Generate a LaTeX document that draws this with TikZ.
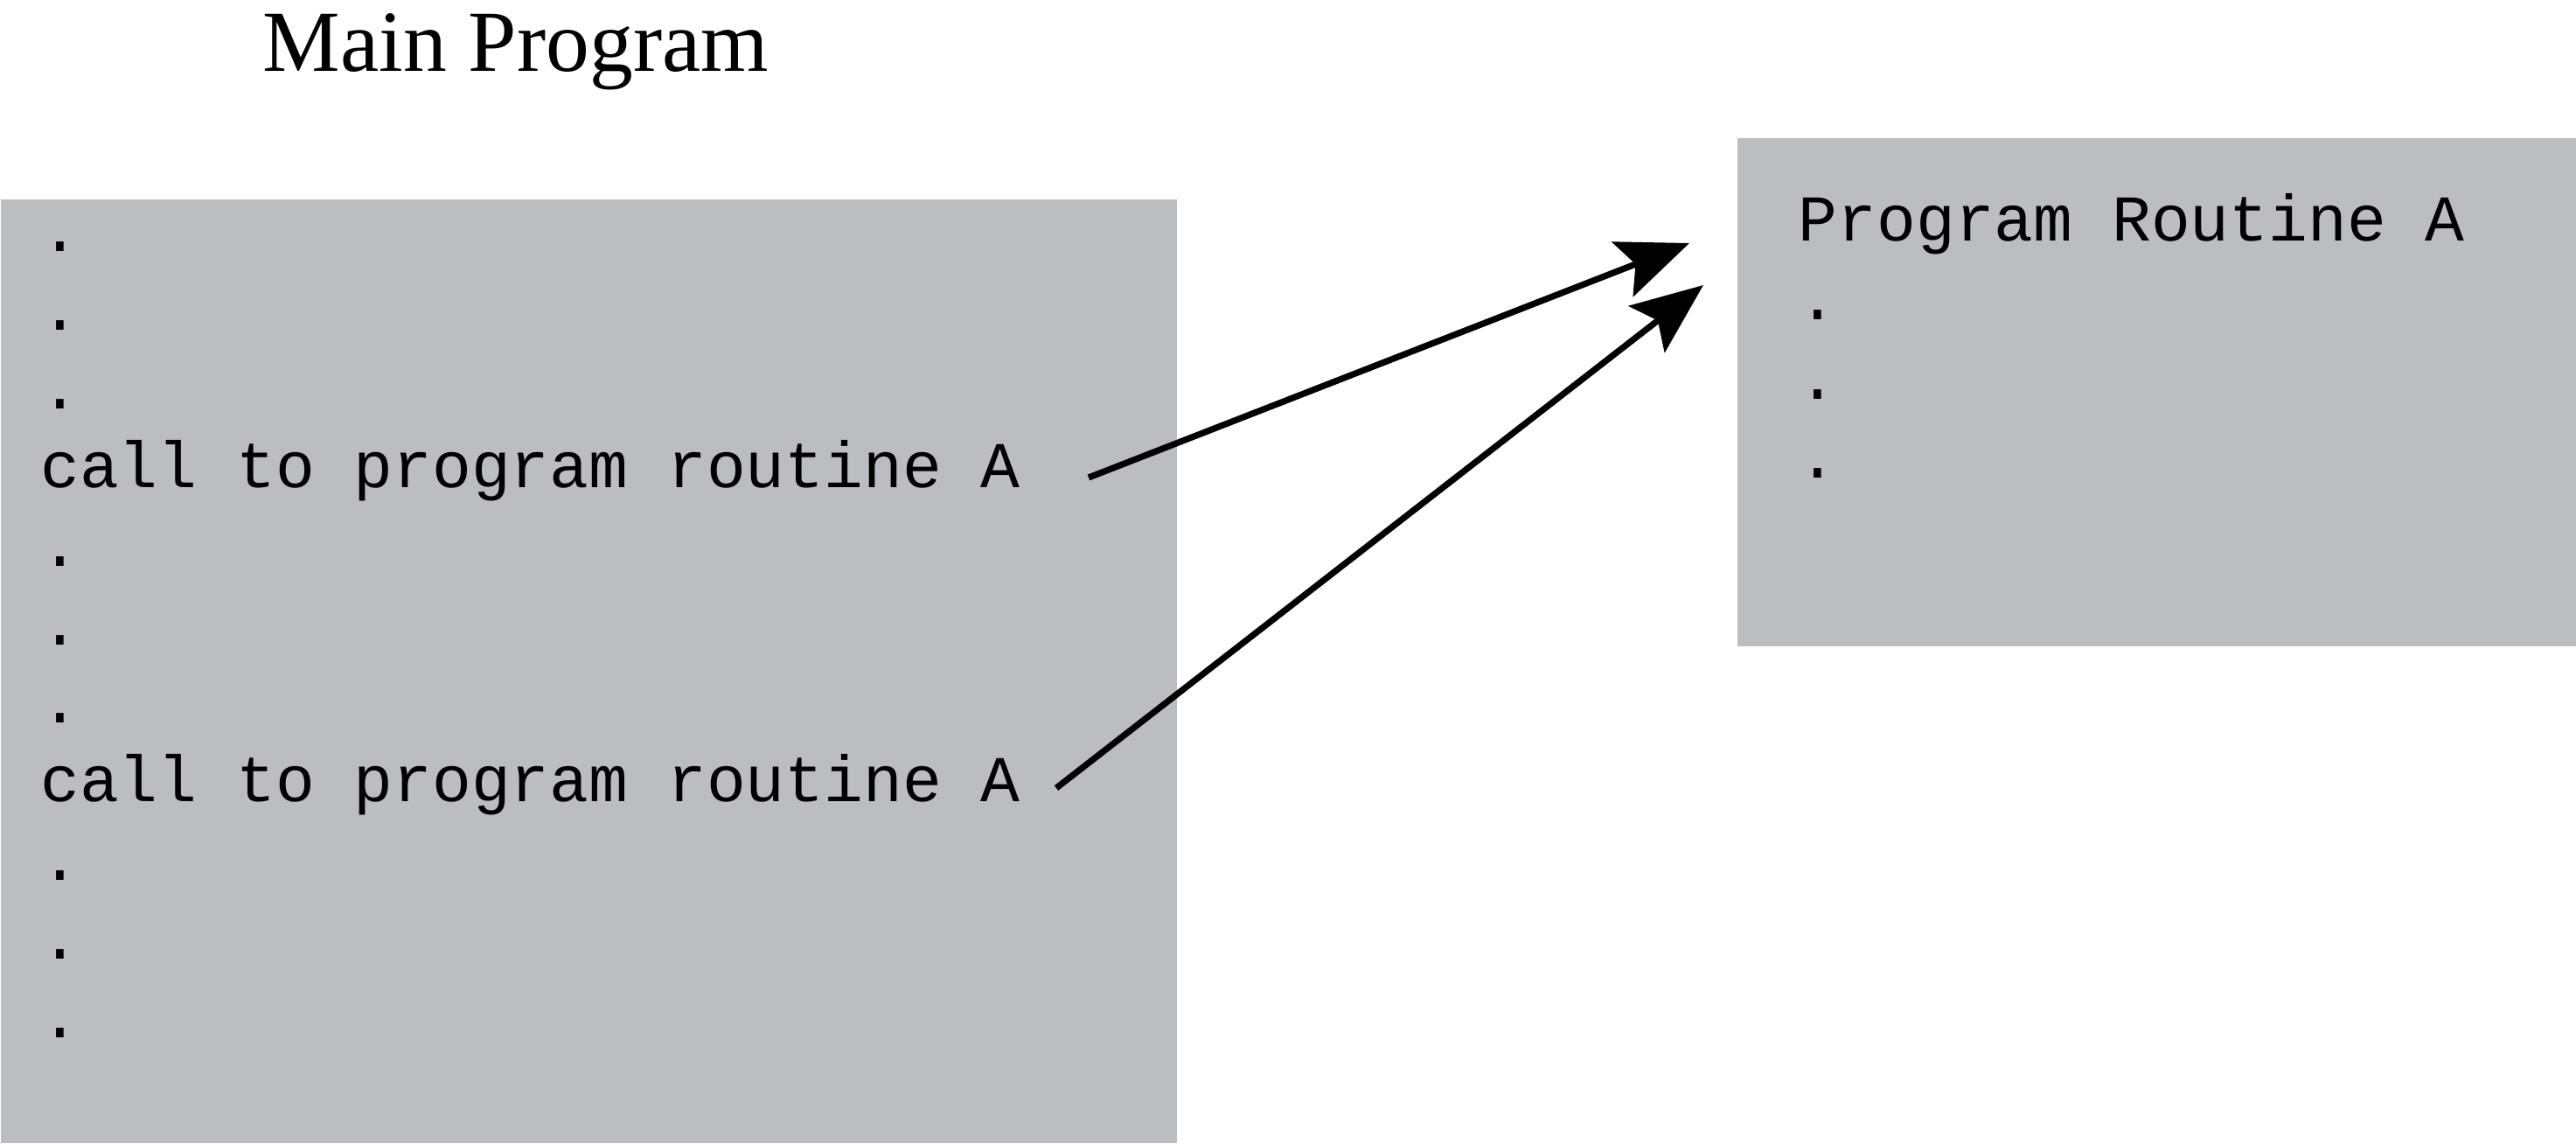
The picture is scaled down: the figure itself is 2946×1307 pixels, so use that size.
\documentclass[tikz,border=0pt]{standalone}
\usepackage{fontspec}
\setmainfont{Liberation Serif}
\setmonofont{Liberation Mono}
\usetikzlibrary{arrows.meta}
\definecolor{boxgray}{RGB}{188,189,192}
\begin{document}
\begin{tikzpicture}[x=0.25pt,y=-0.25pt,
  gbox/.style={fill=boxgray, draw=none, inner sep=0pt, outer sep=0pt, anchor=north west},
  code/.style={font=\fontsize{18.67pt}{22pt}\selectfont\ttfamily, inner sep=0pt, anchor=base west},
  heading/.style={font=\fontsize{24.9pt}{28pt}\selectfont\rmfamily, inner sep=0pt, anchor=base west},
  callarrow/.style={line width=1.8pt, -{Stealth[length=20.5pt,width=16.75pt,inset=4pt]}}]
\useasboundingbox (0,0) rectangle (2946,1307);
% boxes
\node[gbox, minimum width=336.25pt, minimum height=269.75pt] (main) at (1,228) {};
\node[gbox, minimum width=239.75pt, minimum height=145.2pt] (routine) at (1987,158) {};
% title
\node[heading] (mtitle) at (300,81.7) {Main Program};
% main program lines
\node[code] (m1) at (45.5,287.7) {.};
\node[code] (m2) at (45.5,377.6) {.};
\node[code] (m3) at (45.5,467.4) {.};
\node[code] (call1) at (45.5,557.3) {call to program routine A};
\node[code] (m5) at (45.5,647.1) {.};
\node[code] (m6) at (45.5,737.0) {.};
\node[code] (m7) at (45.5,826.8) {.};
\node[code] (call2) at (45.5,916.7) {call to program routine A};
\node[code] (m9) at (45.5,1006.5) {.};
\node[code] (m10) at (45.5,1096.4) {.};
\node[code] (m11) at (45.5,1186.2) {.};
% routine lines
\node[code] (rtitle) at (2056,275) {Program Routine A};
\node[code] (r1) at (2056,365.5) {.};
\node[code] (r2) at (2056,456) {.};
\node[code] (r3) at (2056,546.5) {.};
% arrows
\coordinate (s1) at (1245,546);
\coordinate (t1) at (1932,278);
\coordinate (s2) at (1208,901);
\coordinate (t2) at (1948,326);
\draw[callarrow] (s1) -- (t1);
\draw[callarrow] (s2) -- (t2);
\end{tikzpicture}
\end{document}
